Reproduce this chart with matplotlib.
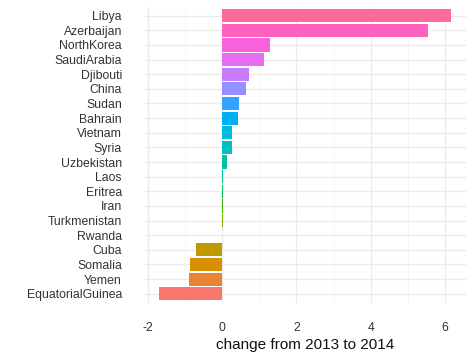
import numpy as np
import matplotlib
matplotlib.use("Agg")
import matplotlib.pyplot as plt
from matplotlib.ticker import MultipleLocator

countries = ["EquatorialGuinea", "Yemen", "Somalia", "Cuba", "Rwanda", "Turkmenistan",
             "Iran", "Eritrea", "Laos", "Uzbekistan", "Syria", "Vietnam", "Bahrain",
             "Sudan", "China", "Djibouti", "SaudiArabia", "NorthKorea", "Azerbaijan", "Libya"]
change = [-1.69, -0.89, -0.86, -0.70, 0.0, 0.015, 0.02, 0.02, 0.03, 0.13, 0.26, 0.28,
          0.44, 0.46, 0.64, 0.72, 1.12, 1.30, 5.54, 6.16]
xticks = [-2, 0, 2, 4, 6]


def hcl_to_rgb(h, c=100.0, l=65.0):
    # polar Luv -> XYZ -> sRGB (D65)
    hr = np.deg2rad(h)
    U = c * np.cos(hr)
    V = c * np.sin(hr)
    Xn, Yn, Zn = 95.047, 100.0, 108.883
    Y = Yn * (((l + 16) / 116) ** 3 if l > 8 else l / 903.3)
    un = 4 * Xn / (Xn + 15 * Yn + 3 * Zn)
    vn = 9 * Yn / (Xn + 15 * Yn + 3 * Zn)
    u = U / (13 * l) + un
    v = V / (13 * l) + vn
    X = 9.0 * Y * u / (4 * v)
    Z = -X / 3 - 5 * Y + 3 * Y / v
    X, Y, Z = X / 100, Y / 100, Z / 100
    r = 3.240479 * X - 1.537150 * Y - 0.498535 * Z
    g = -0.969256 * X + 1.875992 * Y + 0.041556 * Z
    b = 0.055648 * X - 0.204043 * Y + 1.057311 * Z

    def gam(t):
        t = 12.92 * t if t <= 0.0031308 else 1.055 * t ** (1 / 2.4) - 0.055
        return min(max(t, 0), 1)
    return (gam(r), gam(g), gam(b))


n = len(countries)
hues = np.linspace(15, 375, n + 1)[:-1]
colors = [hcl_to_rgb(h % 360) for h in hues]

plt.rcParams['font.family'] = ['Liberation Sans', 'DejaVu Sans']
fig = plt.figure(figsize=(4.74, 3.61), dpi=100)
ax = fig.add_axes([0.305, 0.162, 0.9825 - 0.305, 0.981 - 0.162])

y = np.arange(1, n + 1)
ax.barh(y, change, height=0.9, color=colors, edgecolor='none', zorder=3)

ax.set_ylim(0.4, n + 0.6)
ax.set_xlim(-2.08, 6.55)
ax.set_yticks(y)
ax.set_yticklabels(countries)
ax.set_xticks(xticks)
ax.set_xticklabels([str(t) for t in xticks])
ax.xaxis.set_minor_locator(MultipleLocator(1))

ax.grid(True, which='major', color='#EBEBEB', linewidth=1.0, zorder=0)
ax.grid(True, which='minor', axis='x', color='#F4F4F4', linewidth=0.6, zorder=0)
for s in ax.spines.values():
    s.set_visible(False)
ax.tick_params(axis='both', which='both', length=0)
ax.tick_params(axis='y', labelsize=8.8, labelcolor='#333333', pad=16.3)
ax.tick_params(axis='x', labelsize=8.8, labelcolor='#333333', pad=14)
ax.set_xlabel("change from 2013 to 2014", fontsize=11, color='#111111', labelpad=3)

fig.savefig("out.png", dpi=100)
